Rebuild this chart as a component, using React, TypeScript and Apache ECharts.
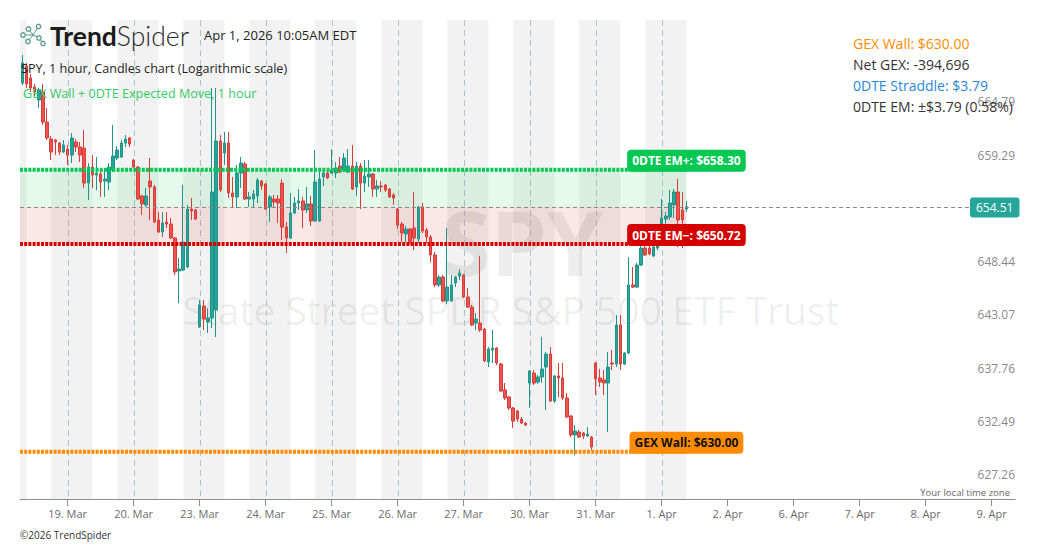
import React, { useEffect, useRef } from 'react';
import * as echarts from 'echarts';

// ---- Hourly candles (first candle: 18 Mar 09:00, last: 1 Apr 10:00) ----
const opens = [
  667.25, 669.02, 667.77, 666.83, 665.48, 666.31, 663.20, 661.45, 661.35, 661.04, 660.11,
  660.42, 659.80, 661.14, 660.63, 660.52, 656.93, 658.57, 657.75, 657.86, 657.14, 657.04, 658.26, 659.50, 659.60, 661.04, 661.56,
  659.29, 658.57, 655.61, 654.69, 657.14, 656.53, 653.16, 651.94, 652.96, 652.75, 651.33, 647.99, 648.09, 648.39, 654.28, 654.18,
  642.36, 644.46, 642.86, 643.26, 644.06, 661.24, 660.01, 661.04, 655.91, 655.51, 657.96, 658.88, 655.30, 655.30, 655.61, 657.14,
  656.83, 654.49, 655.30, 655.30, 656.93, 652.45, 651.33, 653.88, 654.89, 655.10, 654.18, 654.79, 653.06, 653.06, 657.55, 657.96,
  657.96, 657.96, 658.67, 658.26, 658.06, 658.67, 656.53, 658.67, 656.93, 657.55, 657.86, 656.32, 656.63, 656.73, 656.32, 655.71,
  654.28, 652.75, 651.74, 652.24, 652.35, 651.23, 654.49, 652.14, 651.43, 649.61, 646.58, 647.38, 644.97, 644.97, 646.78, 647.48,
  647.58, 645.37, 644.36, 642.76, 642.76, 642.16, 638.87, 640.06, 640.26, 638.67, 636.09, 635.40, 634.31, 634.01, 633.22, 632.82,
  636.78, 637.77, 636.88, 637.38, 638.37, 639.66, 635.00, 637.48, 637.28, 635.30, 633.52, 631.65, 631.94, 631.84, 631.55, 631.45,
  638.77, 637.28, 637.08, 636.78, 638.77, 638.67, 642.56, 638.67, 639.76, 646.58, 646.37, 648.59, 650.31, 650.31, 649.51, 650.31,
  651.13, 653.26, 653.47, 654.69, 656.01, 654.18, 654.28,
];
const closes = [
  669.33, 667.15, 666.73, 666.31, 666.52, 663.20, 661.56, 660.11, 661.14, 660.11, 660.83,
  659.80, 661.56, 660.63, 659.80, 656.93, 658.57, 657.75, 657.96, 657.04, 657.34, 658.57, 659.70, 660.32, 661.04, 661.45, 660.94,
  658.57, 655.30, 654.79, 655.61, 656.53, 652.96, 651.94, 652.86, 652.75, 651.33, 647.89, 648.19, 650.92, 654.28, 654.08, 653.26,
  644.57, 643.16, 643.26, 656.01, 661.24, 656.22, 661.04, 655.91, 655.51, 657.96, 658.98, 655.30, 655.51, 655.81, 657.24, 656.63,
  654.28, 655.51, 654.99, 654.89, 652.45, 651.33, 653.88, 654.89, 655.10, 654.18, 654.79, 653.06, 657.04, 657.34, 657.96, 657.45,
  658.26, 658.47, 658.06, 659.50, 658.67, 656.32, 658.67, 656.93, 657.65, 657.86, 656.32, 656.63, 656.53, 656.22, 655.51, 655.40,
  652.65, 651.84, 652.24, 650.82, 651.33, 654.49, 652.04, 651.43, 649.61, 646.58, 647.38, 644.97, 646.37, 646.58, 647.38, 647.79,
  645.37, 644.36, 642.56, 643.16, 642.06, 638.97, 640.16, 640.26, 638.77, 635.99, 635.30, 634.31, 633.02, 633.22, 632.82, 632.63,
  637.97, 636.78, 637.38, 638.17, 639.66, 635.00, 637.48, 637.28, 635.30, 633.42, 631.65, 632.04, 631.45, 631.55, 631.75, 630.47,
  637.18, 636.88, 636.78, 638.37, 638.67, 642.56, 638.67, 639.76, 646.58, 646.37, 648.59, 650.31, 649.61, 649.71, 650.41, 650.72,
  653.37, 653.57, 654.89, 656.01, 653.16, 653.16, 654.51,
];
const lows = [
  667.04, 666.73, 666.31, 665.90, 664.65, 662.90, 661.35, 659.29, 659.80, 659.80, 660.01,
  658.78, 658.98, 660.11, 659.09, 656.42, 655.20, 656.42, 656.22, 655.51, 655.51, 656.22, 658.06, 659.29, 659.50, 660.63, 660.63,
  658.47, 655.20, 653.67, 654.49, 653.16, 652.86, 651.84, 651.43, 652.35, 651.23, 647.58, 644.77, 647.99, 648.29, 653.16, 653.16,
  642.26, 642.06, 641.76, 642.26, 641.36, 656.01, 658.78, 655.40, 654.39, 654.39, 656.42, 655.20, 654.49, 654.39, 654.89, 656.22,
  654.18, 652.96, 654.49, 652.86, 651.13, 649.81, 651.23, 653.77, 654.18, 652.35, 653.88, 652.55, 652.96, 652.96, 656.63, 657.34,
  657.86, 657.45, 657.96, 658.06, 657.96, 656.22, 655.61, 654.28, 656.01, 656.53, 655.51, 655.51, 656.01, 656.01, 655.40, 654.69,
  652.24, 650.92, 650.92, 650.72, 650.11, 650.82, 651.84, 650.82, 648.90, 646.37, 646.37, 644.87, 644.67, 644.87, 646.37, 647.08,
  645.27, 644.26, 642.46, 642.06, 641.86, 638.87, 638.37, 638.77, 638.57, 635.89, 635.10, 634.11, 632.33, 632.92, 632.73, 632.53,
  634.31, 636.58, 636.68, 636.78, 634.11, 634.90, 634.80, 635.40, 635.10, 633.32, 631.45, 629.68, 631.35, 631.25, 631.45, 630.17,
  635.60, 636.39, 635.60, 631.94, 638.07, 638.37, 638.07, 638.57, 639.66, 646.27, 646.27, 648.49, 649.51, 649.61, 649.40, 650.11,
  650.52, 652.65, 653.16, 653.37, 650.41, 650.31, 653.98,
];
const highs = [
  670.16, 669.33, 668.19, 667.15, 666.73, 667.15, 664.65, 661.76, 661.45, 661.14, 661.35,
  660.83, 662.07, 661.45, 661.14, 662.38, 658.98, 659.80, 659.60, 658.26, 658.47, 658.98, 662.90, 660.73, 661.35, 661.86, 661.66,
  659.39, 658.67, 655.71, 656.42, 659.50, 656.73, 653.98, 653.98, 653.98, 653.37, 651.43, 649.30, 656.73, 654.69, 655.40, 654.28,
  645.07, 645.07, 644.26, 666.73, 666.73, 661.86, 662.17, 662.17, 657.55, 658.78, 659.60, 659.09, 656.01, 656.22, 657.45, 657.24,
  656.93, 655.71, 655.71, 655.71, 657.34, 652.96, 655.91, 655.51, 656.32, 655.51, 656.53, 655.61, 660.32, 658.37, 658.26, 658.06,
  660.42, 659.09, 659.60, 660.01, 660.42, 660.83, 659.09, 658.98, 659.29, 659.29, 657.96, 657.24, 657.14, 656.83, 656.42, 655.91,
  654.39, 652.96, 652.55, 652.35, 656.01, 654.59, 654.89, 652.35, 651.64, 649.91, 647.58, 647.58, 652.35, 647.58, 647.48, 648.19,
  647.68, 646.27, 644.57, 643.76, 649.51, 642.26, 640.36, 642.06, 640.36, 638.77, 636.78, 635.50, 634.41, 634.11, 633.42, 632.92,
  638.07, 638.07, 637.58, 641.36, 639.86, 640.36, 637.58, 638.77, 638.77, 635.79, 633.62, 632.63, 632.14, 631.94, 632.43, 631.55,
  638.87, 638.17, 638.07, 639.86, 640.06, 643.56, 643.56, 639.86, 649.40, 648.39, 648.80, 650.82, 650.62, 650.62, 650.62, 650.92,
  655.30, 653.98, 656.22, 656.32, 657.34, 656.01, 655.10,
];

// ---- Calendar (one session = 16 hourly bars, 04:00-19:00) ----
const dayLabels = ['18. Mar', '19. Mar', '20. Mar', '23. Mar', '24. Mar', '25. Mar', '26. Mar', '27. Mar', '30. Mar', '31. Mar', '1. Apr', '2. Apr', '6. Apr', '7. Apr', '8. Apr', '9. Apr'];
const barsPerDay = 16;
const firstBarOffset = 5; // first visible bar is the 6th bar of 18 Mar
const tradedDays = 11;

// ---- Price axis tick labels (log scale) ----
const yTicks = [627.26, 632.49, 637.76, 643.07, 648.44, 659.29, 664.79];

// ---- Indicator values ----
const lastPrice = 654.51;
const emUpper = 658.3;
const emLower = 650.72;
const gexWall = 630.0;
const netGex = -394696;
const straddle = 3.79;
const emPct = 0.58;

const LN = Math.log;
const X_MIN = -0.56;
const X_MAX = 240.65;
const Y_MIN = LN(625.38);
const Y_MAX = LN(673.83);
const FONT = '"Open Sans", "Noto Sans", sans-serif';

function buildOption(): any {
  const lastIdx = opens.length - 1;
  const dayStart = (i: number) => i * barsPerDay - firstBarOffset;
  const tickSlots = dayLabels.map((_, i) => dayStart(i)).filter((v) => v >= 0);
  const dayLines = tickSlots.filter((v) => v <= lastIdx);
  const bands: number[][] = [];
  for (let i = 0; i < tradedDays; i++) bands.push([Math.max(dayStart(i) - 4, X_MIN), dayStart(i) + 6, Y_MIN]);

  const candleData = opens.map((o, i) => [i, LN(o), LN(closes[i]), LN(lows[i]), LN(highs[i])]);

  const fills = [
    [X_MIN, lastIdx, LN(lastPrice), LN(emUpper), 0],
    [X_MIN, lastIdx, LN(emLower), LN(lastPrice), 1],
  ];
  const fillColors = ['rgba(0, 200, 83, 0.10)', 'rgba(229, 40, 40, 0.11)'];

  const levels = [
    [lastIdx, LN(emUpper), 0],
    [lastIdx, LN(emLower), 1],
    [lastIdx, LN(gexWall), 2],
  ];
  const levelColors = ['#00c853', '#d50000', '#ff8c00'];
  const levelTextColors = ['#ffffff', '#ffffff', '#111111'];
  const levelTexts = [
    `0DTE EM+: $${emUpper.toFixed(2)}`,
    `0DTE EM\u2212: $${emLower.toFixed(2)}`,
    `GEX Wall: $${gexWall.toFixed(2)}`,
  ];

  const fmtLabel = (v: number) => {
    const idx = Math.round((v + firstBarOffset) / barsPerDay);
    return dayLabels[idx] || '';
  };

  const headerZ = 100;
  const logoColor = '#5b9b90';
  const logoDots = [
    [23, 35, 2.2], [28.5, 29, 2.2], [28, 41.5, 2.2], [38.5, 26.5, 2.2], [39, 38, 2.2], [43, 43.5, 2.2],
  ];
  const logoLinks = [
    [23, 35, 33, 35], [28.5, 29, 33, 35], [28, 41.5, 33, 35], [33, 35, 38.5, 26.5], [33, 35, 39, 38], [39, 38, 43, 43.5],
  ];

  return {
    animation: false,
    backgroundColor: '#ffffff',
    grid: { left: 20, right: 25, top: 20, bottom: 46, containLabel: false, outerBoundsMode: 'none' },
    xAxis: {
      type: 'value',
      min: X_MIN,
      max: X_MAX,
      axisLine: { show: true, onZero: false, lineStyle: { color: '#8c8c8c', width: 1 } },
      axisTick: { show: true, customValues: tickSlots, length: 7, lineStyle: { color: '#8c8c8c' } },
      axisLabel: { customValues: tickSlots, formatter: fmtLabel, color: '#6b6b6b', fontSize: 11, fontFamily: FONT, margin: 9 },
      splitLine: { show: false },
    },
    yAxis: {
      type: 'value',
      position: 'right',
      min: Y_MIN,
      max: Y_MAX,
      scale: true,
      axisLine: { show: false },
      axisTick: { show: false },
      splitLine: { show: false },
      axisLabel: {
        inside: true,
        margin: 0,
        customValues: yTicks.map(LN),
        formatter: (v: number) => Math.exp(v).toFixed(2),
        color: '#8a8a8a',
        fontSize: 12,
        fontFamily: FONT,
        verticalAlign: 'bottom',
        lineHeight: 10,
      },
    },
    graphic: [
      { type: 'text', z: 0, silent: true, x: 522, y: 241, style: { text: 'SPY', fontSize: 90, lineHeight: 68, fontWeight: 'bold', fontFamily: FONT, fill: 'rgba(0,0,0,0.07)', align: 'center', verticalAlign: 'middle' } },
      { type: 'text', z: 0, silent: true, x: 511, y: 309, style: { text: 'State Street SPDR S&P 500 ETF Trust', fontSize: 39, lineHeight: 36, fontFamily: FONT, fill: 'rgba(0,0,0,0.07)', align: 'center', verticalAlign: 'middle' } },
      ...logoLinks.map((l) => ({ type: 'line', z: headerZ, silent: true, shape: { x1: l[0], y1: l[1], x2: l[2], y2: l[3] }, style: { stroke: logoColor, lineWidth: 1 } })),
      ...logoDots.map((d) => ({ type: 'circle', z: headerZ + 1, silent: true, shape: { cx: d[0], cy: d[1], r: d[2] }, style: { fill: '#ffffff', stroke: logoColor, lineWidth: 1.3 } })),
      { type: 'circle', z: headerZ + 1, silent: true, shape: { cx: 33, cy: 35, r: 1.2 }, style: { fill: logoColor } },
      {
        type: 'text',
        z: headerZ,
        x: 50,
        y: 36,
        style: {
          text: '{a|Trend}{b|Spider}',
          verticalAlign: 'middle',
          rich: {
            a: { fontSize: 26.5, fontWeight: 'bold', fontFamily: 'Lato, ' + FONT, fill: '#1b1b1b' },
            b: { fontSize: 26.5, fontWeight: 300, fontFamily: 'Lato, ' + FONT, fill: '#2a2a2a' },
          },
        },
      },
      { type: 'text', z: headerZ, x: 204, y: 35, style: { text: 'Apr 1, 2026 10:05AM EDT', fontSize: 13, fontFamily: FONT, fill: '#1e1e1e', verticalAlign: 'middle' } },
      { type: 'text', z: headerZ, x: 21, y: 68, style: { text: 'SPY, 1 hour, Candles chart (Logarithmic scale)', fontSize: 12.6, fontFamily: FONT, fill: '#1e1e1e', verticalAlign: 'middle' } },
      { type: 'text', z: headerZ, x: 23, y: 93, style: { text: 'GEX Wall + 0DTE Expected Move, 1 hour', fontSize: 12.6, fontFamily: FONT, fill: '#33cc66', verticalAlign: 'middle' } },
      { type: 'text', z: headerZ, x: 853, y: 43, style: { text: `GEX Wall: $${gexWall.toFixed(2)}`, fontSize: 14, fontFamily: FONT, fill: '#ff8c00', verticalAlign: 'middle' } },
      { type: 'text', z: headerZ, x: 853, y: 64, style: { text: `Net GEX: ${netGex.toLocaleString('en-US')}`, fontSize: 14, fontFamily: FONT, fill: '#333333', verticalAlign: 'middle' } },
      { type: 'text', z: headerZ, x: 853, y: 85, style: { text: `0DTE Straddle: $${straddle.toFixed(2)}`, fontSize: 14, fontFamily: FONT, fill: '#2a88dc', verticalAlign: 'middle' } },
      { type: 'text', z: headerZ, x: 853, y: 106, style: { text: `0DTE EM: \u00b1$${straddle.toFixed(2)} (${emPct.toFixed(2)}%)`, fontSize: 14, fontFamily: FONT, fill: '#333333', verticalAlign: 'middle' } },
      { type: 'text', z: headerZ, x: 1010, y: 492, style: { text: 'Your local time zone', fontSize: 9.5, lineHeight: 10, fontFamily: FONT, fill: '#666666', align: 'right', verticalAlign: 'middle' } },
      { type: 'text', z: headerZ, x: 20, y: 535, style: { text: '\u00a92026 TrendSpider', fontSize: 10, fontFamily: FONT, fill: '#333333', verticalAlign: 'middle' } },
    ],
    series: [
      {
        type: 'custom',
        name: 'sessions',
        z: 0,
        silent: true,
        data: bands,
        encode: { x: [0, 1], y: 2 },
        renderItem: (params: any, api: any) => {
          const cs = params.coordSys;
          const x0 = api.coord([api.value(0), Y_MIN])[0];
          const x1 = api.coord([api.value(1), Y_MIN])[0];
          const l = Math.max(x0, cs.x);
          const r = Math.min(x1, cs.x + cs.width);
          return { type: 'rect', shape: { x: l, y: cs.y, width: r - l, height: cs.height }, style: { fill: 'rgba(0,0,0,0.05)' } };
        },
      },
      {
        type: 'custom',
        name: 'dayLines',
        z: 1,
        silent: true,
        data: dayLines.map((v) => [v, Y_MIN]),
        encode: { x: 0, y: 1 },
        renderItem: (params: any, api: any) => {
          const cs = params.coordSys;
          const x = Math.round(api.coord([api.value(0), Y_MIN])[0]) + 0.5;
          return { type: 'line', shape: { x1: x, y1: cs.y, x2: x, y2: cs.y + cs.height }, style: { stroke: '#a9c5c5', lineWidth: 1, lineDash: [6, 4] } };
        },
      },
      {
        type: 'custom',
        name: 'emFill',
        z: 1,
        silent: true,
        data: fills,
        encode: { x: [0, 1], y: [2, 3] },
        renderItem: (params: any, api: any) => {
          const p0 = api.coord([api.value(0), api.value(3)]);
          const p1 = api.coord([api.value(1), api.value(2)]);
          return { type: 'rect', shape: { x: p0[0], y: p0[1], width: p1[0] - p0[0], height: p1[1] - p0[1] }, style: { fill: fillColors[api.value(4)] } };
        },
      },
      {
        type: 'candlestick',
        name: 'SPY',
        z: 2,
        data: candleData,
        encode: { x: 0, y: [1, 2, 3, 4] },
        barWidth: 3,
        itemStyle: { color: '#26a69a', color0: '#ef5350', borderColor: '#1f9488', borderColor0: '#d93b37', borderWidth: 1 },
      },
      {
        type: 'custom',
        name: 'levels',
        z: 5,
        silent: true,
        clip: false,
        data: levels,
        encode: { x: 0, y: 1 },
        renderItem: (params: any, api: any) => {
          const cs = params.coordSys;
          const idx = api.value(2);
          const end = api.coord([api.value(0), api.value(1)]);
          return {
            type: 'group',
            children: [
              { type: 'line', shape: { x1: cs.x, y1: end[1], x2: end[0], y2: end[1] }, style: { stroke: levelColors[idx], lineWidth: 4, lineDash: [3, 1.2] } },
              {
                type: 'text',
                x: end[0],
                y: end[1] + 2,
                style: {
                  text: levelTexts[idx],
                  fill: levelTextColors[idx],
                  fontSize: 12,
                  fontWeight: 'bold',
                  fontFamily: FONT,
                  align: 'center',
                  verticalAlign: 'bottom',
                  backgroundColor: levelColors[idx],
                  padding: [5, 5, 5, 5],
                  borderRadius: 4,
                },
              },
            ],
          };
        },
      },
      {
        type: 'custom',
        name: 'lastPrice',
        z: 6,
        silent: true,
        clip: false,
        data: [[lastIdx, LN(lastPrice)]],
        encode: { x: 0, y: 1 },
        renderItem: (params: any, api: any) => {
          const cs = params.coordSys;
          const y = Math.round(api.coord([api.value(0), api.value(1)])[1]) + 0.5;
          const xEnd = cs.x + cs.width - 45;
          return {
            type: 'group',
            children: [
              { type: 'line', shape: { x1: cs.x, y1: y, x2: xEnd, y2: y }, style: { stroke: '#8a8a8a', lineWidth: 1, lineDash: [4, 3] } },
              {
                type: 'text',
                x: xEnd,
                y: y,
                style: {
                  text: Math.exp(api.value(1)).toFixed(2),
                  fill: '#ffffff',
                  fontSize: 12,
                  fontFamily: FONT,
                  align: 'left',
                  verticalAlign: 'middle',
                  backgroundColor: '#26a69a',
                  padding: [4, 6, 4, 6],
                  borderRadius: 3,
                },
              },
            ],
          };
        },
      },
    ],
  };
}

export default function App() {
  const ref = useRef<HTMLDivElement>(null);
  useEffect(() => {
    document.body.style.margin = '0';
    if (!ref.current) return;
    const chart = echarts.init(ref.current, null, { renderer: 'svg' });
    chart.setOption(buildOption());
    return () => chart.dispose();
  }, []);
  return <div ref={ref} style={{ width: 1040, height: 545, position: 'absolute', left: 0, top: 0 }} />;
}
